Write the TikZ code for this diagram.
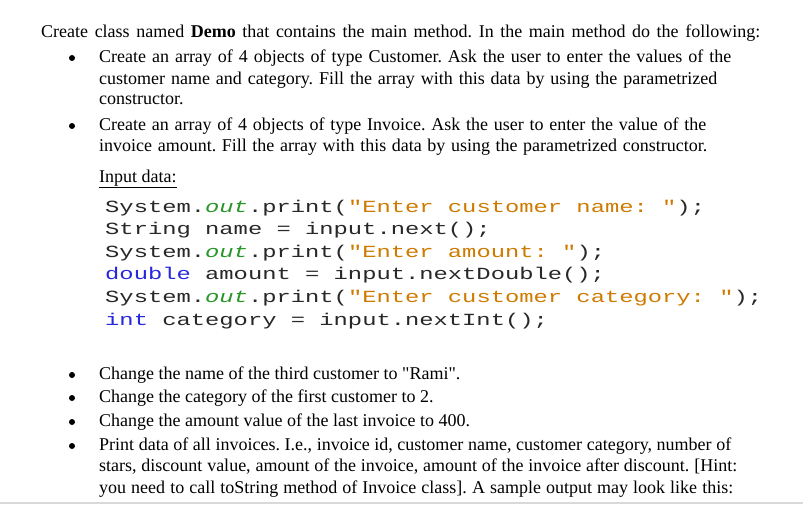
\documentclass[tikz,border=0pt]{standalone}
\usepackage{fontspec}
\setmainfont{Liberation Serif}
\newfontfamily\codefont{Liberation Mono}
\definecolor{jstr}{RGB}{206,123,0}
\definecolor{jgrn}{RGB}{40,150,40}
\definecolor{jkw}{RGB}{40,40,220}
\definecolor{jtxt}{RGB}{40,40,40}
\newcommand{\jl}[4]{\node[txt] (#1) at (#2) {\hbox to #3pt{\frenchspacing\spaceskip=0.25em plus 1em minus 0.15em\relax #4}};}
\newcommand{\cl}[3]{\node[txt] (#1) at (#2) {\scalebox{1.4}[1]{\codefont\fontsize{17}{17}\selectfont\color{jtxt}#3}};}
\begin{document}
\begin{tikzpicture}[x=1pt,y=-1pt,
  txt/.style={anchor=west,inner sep=0pt,font=\fontsize{18}{20}\selectfont\frenchspacing},
  dot/.style={circle,fill=black,inner sep=0pt,minimum size=6pt}]
\useasboundingbox (0,0) rectangle (803,505);
\fill[white] (0,0) rectangle (803,505);
\draw[black!15,line width=1.5pt] (0,503) -- (803,503);
\jl{l0}{41,33}{719}{Create class named \textbf{Demo} that contains the main method. In the main method do the following:}
\node[dot] (b1) at (72,58) {};
\jl{l1}{99,58}{632}{Create an array of 4 objects of type Customer. Ask the user to enter the values of the}
\jl{l2}{99,80}{618}{customer name and category. Fill the array with this data by using the parametrized}
\node[txt] (l3) at (99,100) {constructor.};
\node[dot] (b2) at (72,126) {};
\jl{l4}{99,126}{607}{Create an array of 4 objects of type Invoice. Ask the user to enter the value of the}
\jl{l5}{99,147}{608}{invoice amount. Fill the array with this data by using the parametrized constructor.}
\node[txt] (l6) at (99,179) {\underline{Input data:}};
\cl{c1}{105,208}{System.{\color{jgrn}\itshape out}.print({\color{jstr}"Enter customer name: "});}
\cl{c2}{105,230}{String name = input.next();}
\cl{c3}{105,253}{System.{\color{jgrn}\itshape out}.print({\color{jstr}"Enter amount: "});}
\cl{c4}{105,275}{{\color{jkw}double} amount = input.nextDouble();}
\cl{c5}{105,298}{System.{\color{jgrn}\itshape out}.print({\color{jstr}"Enter customer category: "});}
\cl{c6}{105,321}{{\color{jkw}int} category = input.nextInt();}
\node[dot] (b3) at (72,375) {};
\node[txt] (l7) at (99,375) {Change the name of the third customer to \textquotedbl Rami\textquotedbl.};
\node[dot] (b4) at (72,398) {};
\node[txt] (l8) at (99,398) {Change the category of the first customer to 2.};
\node[dot] (b5) at (72,422) {};
\node[txt] (l9) at (99,422) {Change the amount value of the last invoice to 400.};
\node[dot] (b6) at (72,446) {};
\jl{l10}{99,446}{632}{Print data of all invoices. I.e., invoice id, customer name, customer category, number of}
\jl{l11}{99,467}{638}{stars, discount value, amount of the invoice, amount of the invoice after discount. [Hint:}
\jl{l12}{99,489}{634}{you need to call toString method of Invoice class]. A sample output may look like this:}
\end{tikzpicture}
\end{document}
